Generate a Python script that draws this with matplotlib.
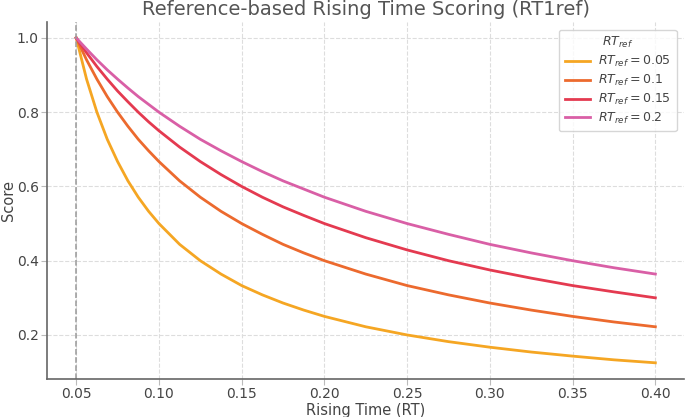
import matplotlib
matplotlib.use("Agg")
import matplotlib.pyplot as plt

rt = [0.05, 0.05625, 0.0625, 0.06875, 0.075, 0.08125, 0.0875, 0.09375, 0.10,
      0.1125, 0.125, 0.1375, 0.15, 0.1625, 0.175, 0.1875, 0.20,
      0.225, 0.25, 0.275, 0.30, 0.325, 0.35, 0.375, 0.40]
score_005 = [1.0, 0.889, 0.8, 0.727, 0.667, 0.615, 0.571, 0.533, 0.5,
             0.444, 0.4, 0.364, 0.333, 0.308, 0.286, 0.267, 0.25,
             0.222, 0.2, 0.182, 0.167, 0.154, 0.143, 0.133, 0.125]
score_010 = [1.0, 0.941, 0.889, 0.842, 0.8, 0.762, 0.727, 0.696, 0.667,
             0.615, 0.571, 0.533, 0.5, 0.471, 0.444, 0.421, 0.4,
             0.364, 0.333, 0.308, 0.286, 0.267, 0.25, 0.235, 0.222]
score_015 = [1.0, 0.96, 0.923, 0.889, 0.857, 0.828, 0.8, 0.774, 0.75,
             0.706, 0.667, 0.632, 0.6, 0.571, 0.545, 0.522, 0.5,
             0.462, 0.429, 0.4, 0.375, 0.353, 0.333, 0.316, 0.3]
score_020 = [1.0, 0.97, 0.941, 0.914, 0.889, 0.865, 0.842, 0.821, 0.8,
             0.762, 0.727, 0.696, 0.667, 0.64, 0.615, 0.593, 0.571,
             0.533, 0.5, 0.471, 0.444, 0.421, 0.4, 0.381, 0.364]
ref_labels = ["0.05", "0.1", "0.15", "0.2"]
series = [score_005, score_010, score_015, score_020]
colors = ["#F5A623", "#EC6A2E", "#E43A50", "#D95FA6"]
ref_line = 0.05

plt.rcParams['font.family'] = ['DejaVu Sans']
fig, ax = plt.subplots(figsize=(6.85, 4.17), dpi=100)
fig.subplots_adjust(left=0.069, right=0.999, top=0.948, bottom=0.091)

for lab, ys, c in zip(ref_labels, series, colors):
    ax.plot(rt, ys, color=c, lw=2.0, label=r"$RT_{ref} = %s$" % lab)

ax.axvline(ref_line, color="#999999", ls="--", lw=1.1)

ax.grid(True, ls="--", color="#dddddd", lw=0.8)
ax.set_axisbelow(True)
for s in ["top", "right"]:
    ax.spines[s].set_visible(False)
for s in ["left", "bottom"]:
    ax.spines[s].set_color("#666666")
    ax.spines[s].set_linewidth(1.2)
ax.tick_params(colors="#bbbbbb", labelcolor="#444444", labelsize=10, length=4,
               width=0.8, pad=2)
ax.set_xticks([0.05, 0.10, 0.15, 0.20, 0.25, 0.30, 0.35, 0.40])
ax.set_yticks([0.2, 0.4, 0.6, 0.8, 1.0])
ax.set_xlabel("Rising Time (RT)", fontsize=10.5, color="#444444", labelpad=1)
ax.set_ylabel("Score", fontsize=10.5, color="#444444", labelpad=1)
ax.set_title("Reference-based Rising Time Scoring (RT1ref)", fontsize=14,
             color="#555555", pad=4.5)

leg = ax.legend(title=r"$RT_{ref}$", loc="upper right", fontsize=9, title_fontsize=9,
                frameon=True, handlelength=2.0, bbox_to_anchor=(0.998, 0.995),
                borderpad=0.45, labelspacing=0.3, handletextpad=0.7)
leg.get_frame().set_edgecolor("#cccccc")
for t in leg.get_texts():
    t.set_color("#444444")
leg.get_title().set_color("#444444")

fig.savefig("out.png", dpi=100)
